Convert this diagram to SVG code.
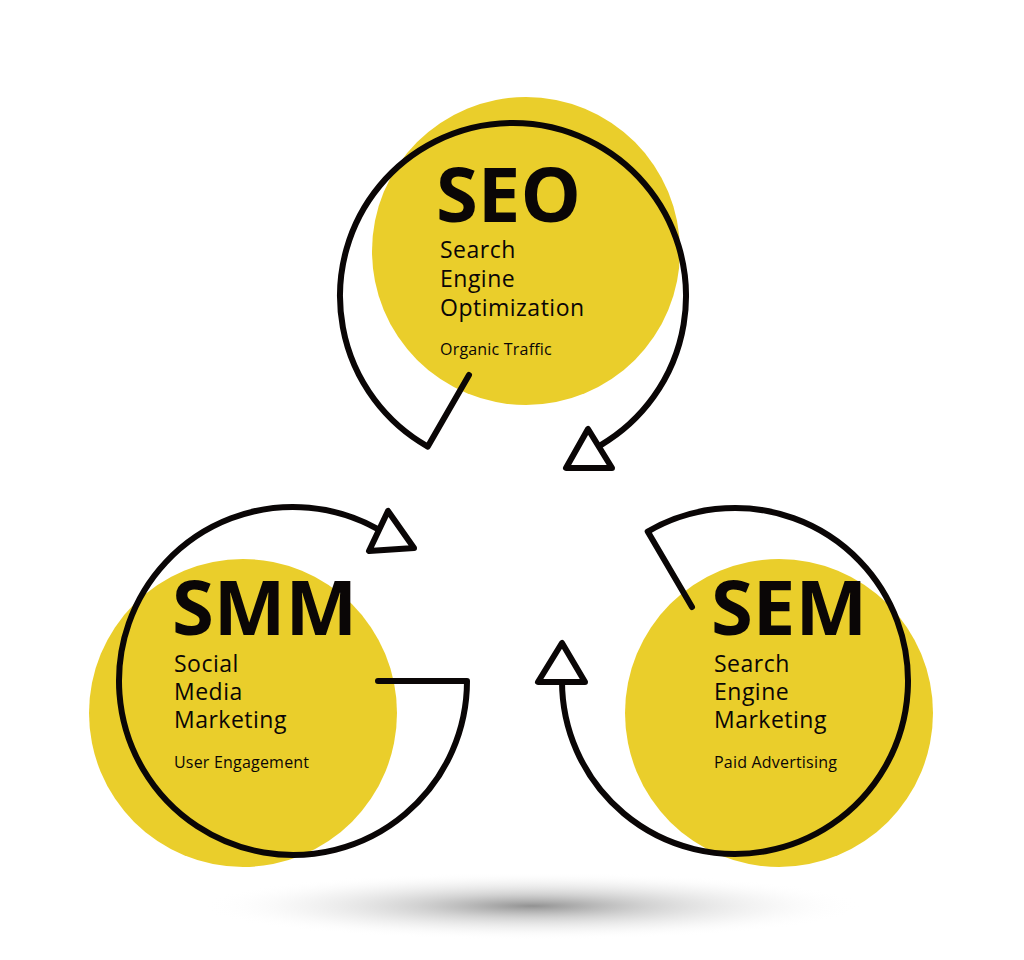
<svg xmlns="http://www.w3.org/2000/svg" width="1024" height="960" viewBox="0 0 1024 960">
  <defs>
    <radialGradient id="shadow" cx="0.5" cy="0.5" r="0.5">
      <stop offset="0" stop-color="#8c8c8c" stop-opacity="0.95"/>
      <stop offset="0.35" stop-color="#b5b5b5" stop-opacity="0.6"/>
      <stop offset="0.7" stop-color="#dcdcdc" stop-opacity="0.3"/>
      <stop offset="1" stop-color="#ffffff" stop-opacity="0"/>
    </radialGradient>
  </defs>
  <style>
    .blob { fill: #EACE2B; }
    .loop { fill: none; stroke: #0a0606; stroke-width: 6; stroke-linecap: round; stroke-linejoin: round; }
    .head { fill: #ffffff; stroke: #0a0606; stroke-width: 6; stroke-linejoin: round; }
    .big { font-family: "Open Sans", "Liberation Sans", sans-serif; font-weight: 700; font-size: 76px; fill: #0a0606; }
    .sub { font-family: "Open Sans", "Liberation Sans", sans-serif; font-size: 23px; letter-spacing: 0.5px; fill: #0a0606; }
    .note { font-family: "Open Sans", "Liberation Sans", sans-serif; font-size: 16px; letter-spacing: 0.2px; fill: #0a0606; }
  </style>
  <rect width="1024" height="960" fill="#ffffff"/>
  <ellipse cx="532" cy="906" rx="330" ry="34" fill="url(#shadow)"/>

  <g id="seo">
    <circle class="blob" cx="526" cy="251" r="154"/>
    <text class="big" x="436" y="222">SEO</text>
    <text class="sub" x="440" y="258">Search</text>
    <text class="sub" x="440" y="287">Engine</text>
    <text class="sub" x="440" y="316">Optimization</text>
    <text class="note" x="440" y="355">Organic Traffic</text>
  </g>
  <g id="smm">
    <circle class="blob" cx="243" cy="713" r="154"/>
    <text class="big" x="172" y="635">SMM</text>
    <text class="sub" x="174" y="672">Social</text>
    <text class="sub" x="174" y="700">Media</text>
    <text class="sub" x="174" y="728">Marketing</text>
    <text class="note" x="174" y="768">User Engagement</text>
  </g>
  <g id="sem">
    <circle class="blob" cx="779" cy="713" r="154"/>
    <text class="big" x="711" y="635">SEM</text>
    <text class="sub" x="714" y="672">Search</text>
    <text class="sub" x="714" y="700">Engine</text>
    <text class="sub" x="714" y="728">Marketing</text>
    <text class="note" x="714" y="768">Paid Advertising</text>
  </g>

  <g id="connectors">
    <path class="loop" d="M469 375 L427.8 446.6 A173 173 0 1 1 600.8 445.1"/>
    <polygon class="head" points="588,429 566,468 612,468"/>
    <path class="loop" d="M378 681 L467 681 A174 174 0 1 1 377.4 528.8"/>
    <polygon class="head" points="388,511 369,551 414,548"/>
    <path class="loop" d="M692 607 L647.7 531.6 A173 173 0 1 1 562 681"/>
    <polygon class="head" points="562,643 538,682 585,682"/>
  </g>
</svg>
